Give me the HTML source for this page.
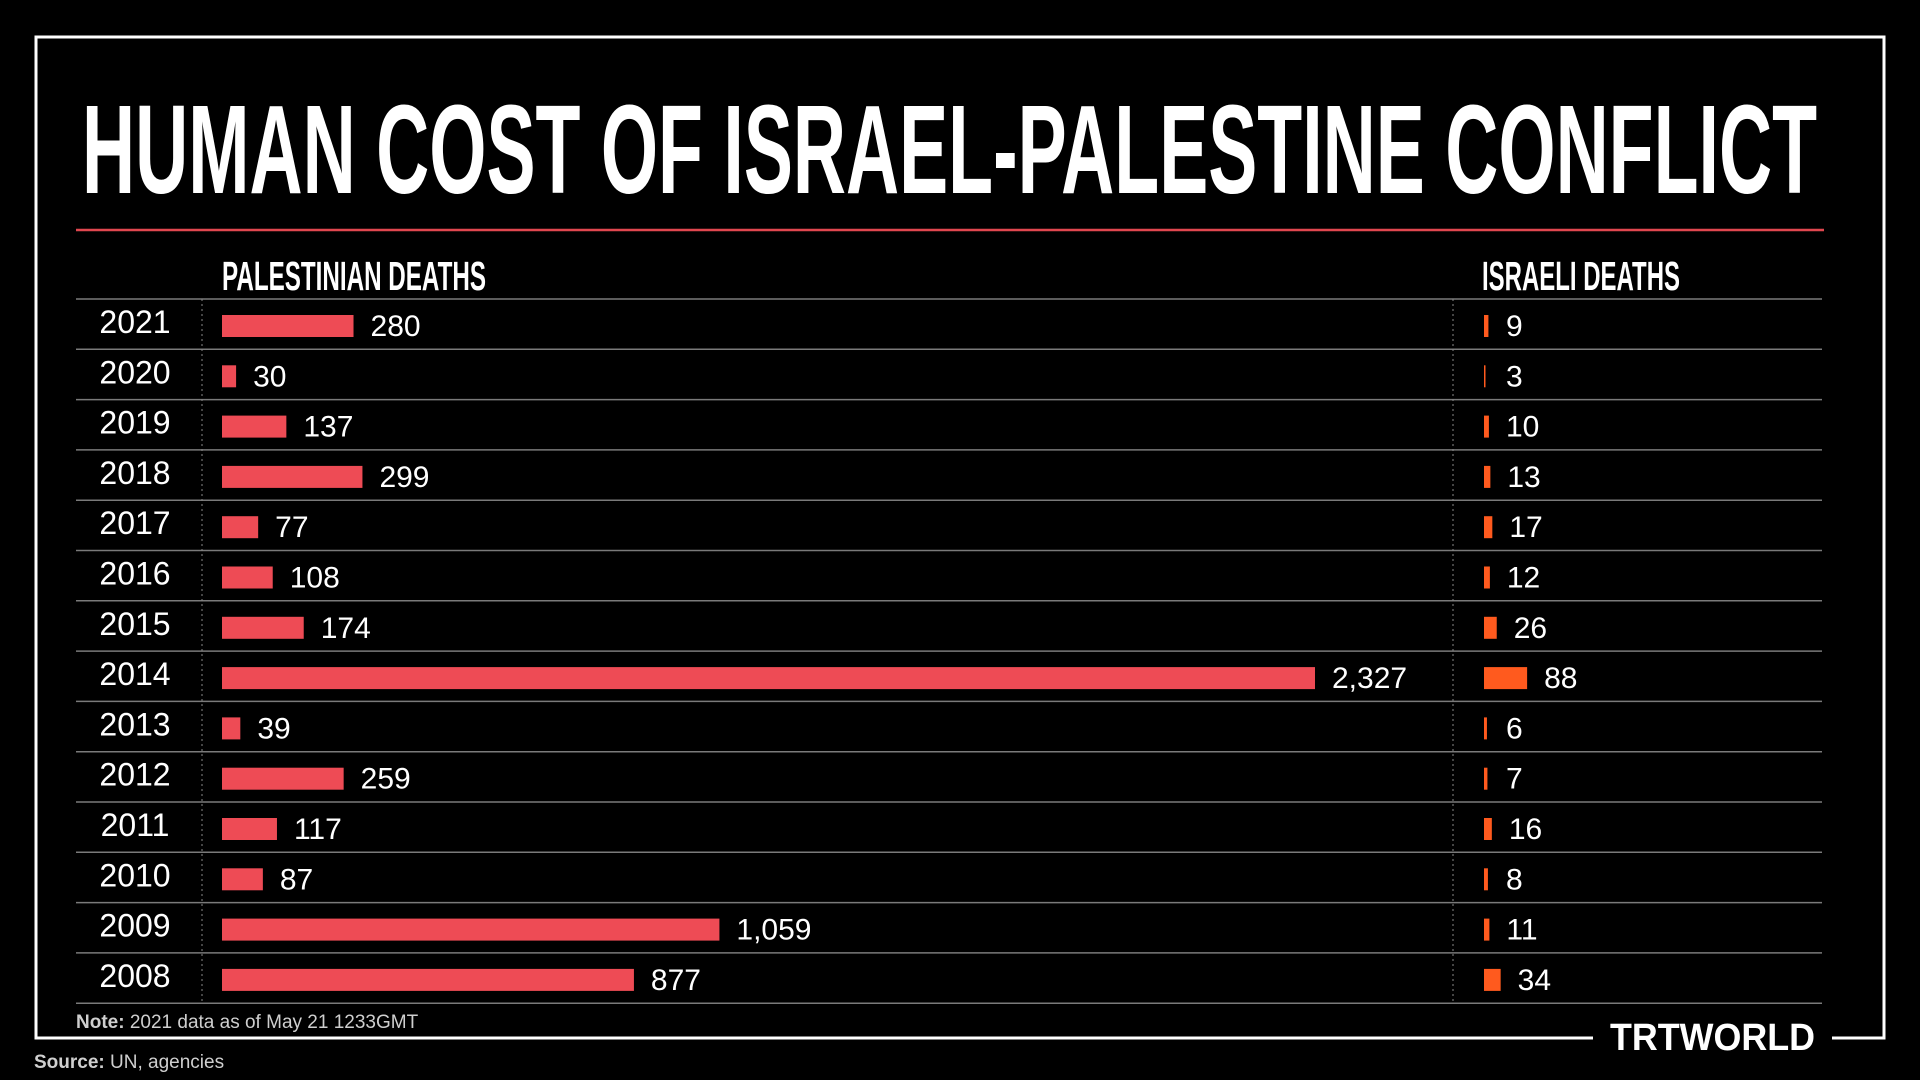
<!DOCTYPE html>
<html><head><meta charset="utf-8"><style>
html,body{margin:0;padding:0;background:#000;}
svg{display:block;}
</style></head><body>
<svg id="chart" width="1920" height="1080" viewBox="0 0 1920 1080" xmlns="http://www.w3.org/2000/svg">
<rect width="1920" height="1080" fill="#000"/>
<g stroke="#fff" stroke-width="3" fill="none">
<polyline points="1593,1038 36,1038 36,37 1884,37 1884,1038 1832,1038"/>
</g>
<text x="82" y="193" font-family="'Liberation Sans Narrow','Liberation Sans',sans-serif" font-weight="bold" font-size="126" fill="#fff" textLength="1735" lengthAdjust="spacingAndGlyphs">HUMAN COST OF ISRAEL-PALESTINE CONFLICT</text>
<line x1="76" y1="230" x2="1824" y2="230" stroke="#e0474f" stroke-width="2.5"/>
<text x="222" y="290" font-family="'Liberation Sans Narrow','Liberation Sans',sans-serif" font-weight="bold" font-size="41" fill="#fff" textLength="264" lengthAdjust="spacingAndGlyphs">PALESTINIAN DEATHS</text>
<text x="1482" y="290" font-family="'Liberation Sans Narrow','Liberation Sans',sans-serif" font-weight="bold" font-size="41" fill="#fff" textLength="198" lengthAdjust="spacingAndGlyphs">ISRAELI DEATHS</text>
<g id="rows"></g>
<text x="76" y="1028" font-family="'Liberation Sans',sans-serif" font-size="19" fill="#cfcfcf"><tspan font-weight="bold">Note:</tspan> 2021 data as of May 21 1233GMT</text>
<text x="34" y="1068" font-family="'Liberation Sans',sans-serif" font-size="19" fill="#cfcfcf"><tspan font-weight="bold">Source:</tspan> UN, agencies</text>
<text x="1610" y="1050" font-family="'Liberation Sans',sans-serif" font-weight="bold" font-size="38" fill="#fff" textLength="205" lengthAdjust="spacingAndGlyphs">TRTWORLD</text>
</svg>
<script>
const years = ["2021","2020","2019","2018","2017","2016","2015","2014","2013","2012","2011","2010","2009","2008"];
const palestinian = [280,30,137,299,77,108,174,2327,39,259,117,87,1059,877];
const israeli = [9,3,10,13,17,12,26,88,6,7,16,8,11,34];
const palLabels = ["280","30","137","299","77","108","174","2,327","39","259","117","87","1,059","877"];
const isrLabels = ["9","3","10","13","17","12","26","88","6","7","16","8","11","34"];

const NS="http://www.w3.org/2000/svg";
const g=document.getElementById('rows');
const top0=299, rowH=50.3;
const palX=222, isrX=1484;
const palScale=v=>v*1093/2327;
const isrScale=v=>Math.max(v*0.49,1.5);
function mk(tag,attrs){const e=document.createElementNS(NS,tag);for(const k in attrs)e.setAttribute(k,attrs[k]);g.appendChild(e);return e;}
for(let i=0;i<=years.length;i++){
  const y=top0+i*rowH;
  const l=mk('line',{x1:76,x2:1822,y1:y,y2:y,stroke:'#7a7a7a','stroke-width':1.5});
  
  
}
const d1=mk('line',{x1:202,x2:202,y1:top0,y2:top0+years.length*rowH,stroke:'#888','stroke-width':1,'stroke-dasharray':'2,3'});


const d2=mk('line',{x1:1453,x2:1453,y1:top0,y2:top0+years.length*rowH,stroke:'#888','stroke-width':1,'stroke-dasharray':'2,3'});


years.forEach((yr,i)=>{
  const y=top0+i*rowH;
  const t=mk('text',{x:135,y:y+34,'text-anchor':'middle','font-family':"'Liberation Sans',sans-serif",'font-size':32,fill:'#fff'});
  t.textContent=yr;
  
  
  const pw=palScale(palestinian[i]);
  const b=mk('rect',{x:palX,y:y+16,width:pw,height:22,fill:'#ee4b55'});
  
  
  const pl=mk('text',{x:palX+pw+17,y:y+37,'font-family':"'Liberation Sans',sans-serif",'font-size':30,fill:'#fff'});
  pl.textContent=palLabels[i];
  
  
  const iw=isrScale(israeli[i]);
  const ib=mk('rect',{x:isrX,y:y+16,width:iw,height:22,fill:'#ff5a1e'});
  
  
  const il=mk('text',{x:isrX+Math.max(iw,5)+17,y:y+37,'font-family':"'Liberation Sans',sans-serif",'font-size':30,fill:'#fff'});
  il.textContent=isrLabels[i];
  
  
});
</script>
</body></html>
